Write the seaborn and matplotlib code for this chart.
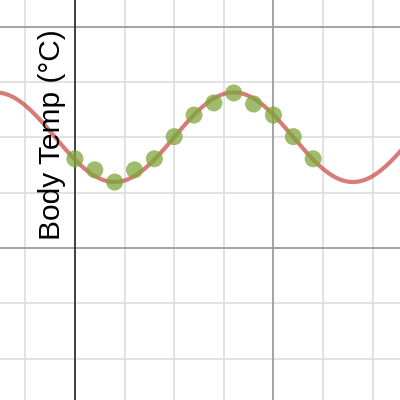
import numpy as np
import matplotlib
matplotlib.use("Agg")
import matplotlib.pyplot as plt
import seaborn as sns

sns.set_theme(style="white")
plt.rcParams['font.family'] = ['Liberation Sans', 'DejaVu Sans']

hours = [0, 0.4, 0.8, 1.2, 1.6, 2.0, 2.4, 2.8, 3.2, 3.6, 4.0, 4.4, 4.8]
temps = [1.61, 1.41, 1.19, 1.41, 1.61, 2.01, 2.40, 2.62, 2.80, 2.60, 2.40, 2.01, 1.61]

mid, amp, period, phase = 2.0, 0.81, 4.8, 0.8

fig = plt.figure(figsize=(4, 4), dpi=100)
ax = fig.add_axes([0, 0, 1, 1])
ax.set_xlim(-1.51, 6.55)
ax.set_ylim(-2.75, 4.48)

for gx in np.arange(-1, 7, 1):
    ax.axvline(gx, color='#dddddd', lw=1.2, zorder=0)
for gy in np.arange(-2, 5, 1):
    ax.axhline(gy, color='#dddddd', lw=1.2, zorder=0)
for gx in [4]:
    ax.axvline(gx, color='#999999', lw=1.2, zorder=1)
for gy in [0, 4]:
    ax.axhline(gy, color='#999999', lw=1.2, zorder=1)
ax.axvline(0, color='#333333', lw=1.3, zorder=1)

xs = np.linspace(-1.6, 6.6, 400)
ys = mid - amp * np.cos(2 * np.pi * (xs - phase) / period)
sns.lineplot(x=xs, y=ys, ax=ax, color='#c74440', alpha=0.7, lw=3, zorder=2)
sns.scatterplot(x=hours, y=temps, ax=ax, color='#7ea63a', alpha=0.75, s=150,
                edgecolor='none', zorder=3)

ax.text(-0.47, 2.04, "Body Temp (°C)", rotation=90, ha='center', va='center',
        fontsize=21.5, color='black')
ax.set_xticks([]); ax.set_yticks([])
for s in ax.spines.values():
    s.set_visible(False)
fig.savefig("out.png", dpi=100)
